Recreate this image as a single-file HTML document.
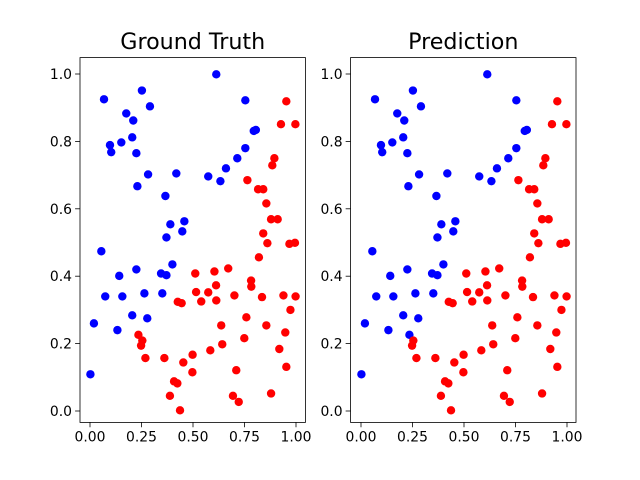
<!DOCTYPE html>
<html><head><meta charset="utf-8"><style>body{margin:0;background:#fff}svg{display:block}</style></head>
<body>
<svg id="fig" width="640" height="480" xmlns="http://www.w3.org/2000/svg" font-family="DejaVu Sans, Liberation Sans, sans-serif"></svg>
<script>
const xs=[0.613,0.068,0.252,0.754,0.953,0.291,0.176,0.210,0.927,0.997,0.795,0.805,0.097,0.152,0.205,0.103,0.225,0.754,0.715,0.895,0.885,0.660,0.282,0.419,0.574,0.633,0.764,0.230,0.816,0.841,0.366,0.856,0.458,0.390,0.879,0.911,0.448,0.841,0.371,
0.861,0.968,0.995,0.055,0.820,0.400,0.225,0.142,0.345,0.371,0.511,0.604,0.671,0.782,0.783,0.612,0.515,0.574,0.540,0.613,0.074,0.157,0.264,0.351,0.701,0.835,0.939,0.998,0.426,0.445,0.973,0.205,0.278,0.759,0.019,0.133,0.637,0.856,0.948,0.235,0.254,0.248,0.749,0.642,0.919,0.584,0.498,0.269,0.361,0.453,0.953,0.497,0.710,0.002,0.408,0.424,0.388,0.694,0.722,0.879,0.437];
const ys=[0.999,0.925,0.951,0.922,0.919,0.904,0.883,0.862,0.851,0.851,0.831,0.834,0.789,0.797,0.812,0.768,0.765,0.780,0.750,0.750,0.729,0.720,0.702,0.705,0.696,0.682,0.685,0.667,0.658,0.658,0.638,0.616,0.563,0.554,0.569,0.569,0.533,0.527,0.515,
0.498,0.496,0.499,0.474,0.456,0.435,0.420,0.401,0.408,0.403,0.408,0.414,0.423,0.387,0.369,0.373,0.353,0.352,0.325,0.328,0.340,0.340,0.349,0.349,0.343,0.338,0.343,0.340,0.324,0.320,0.300,0.284,0.275,0.278,0.260,0.240,0.254,0.254,0.233,0.226,0.209,0.194,0.216,0.198,0.184,0.180,0.167,0.157,0.157,0.144,0.131,0.115,0.121,0.109,0.088,0.082,0.045,0.045,0.027,0.052,0.002];
const gtLabels=("BBBBRBBBRRBBBBBBBBBRRBBBBBRBRRBRBBRRBRB"+"RRRBRBBBBB"+"RRRRRRRRRR"+"BBBBRRRRRR"+"RBBRBBRRRR"+"RRRRRRRRRR"+"RRRBRRRRRRR").split('');
const predLabels=gtLabels.slice(); predLabels[78]='B';
const xTicks=[0,0.25,0.5,0.75,1.0], xTickLabels=["0.00","0.25","0.50","0.75","1.00"];
const yTicks=[0,0.2,0.4,0.6,0.8,1.0], yTickLabels=["0.0","0.2","0.4","0.6","0.8","1.0"];
(function(){
const NS="http://www.w3.org/2000/svg", svg=document.getElementById('fig');
function mk(t,a,p){const e=document.createElementNS(NS,t);for(const k in a)e.setAttribute(k,a[k]);(p||svg).appendChild(e);return e;}
const topY=57.6,botY=422.4;
const panels=[{l:80,r:305.45,x0:90,title:"Ground Truth",labels:gtLabels,name:"ground-truth"},{l:350.55,r:576,x0:361,title:"Prediction",labels:predLabels,name:"prediction"}];
const sy=v=>411-337*v;
panels.forEach(p=>{
  const sx=v=>p.x0+206*v;
  const g=mk('g',{});
  
  
  xs.forEach((x,i)=>{const c=mk('circle',{cx:sx(x),cy:sy(ys[i]),r:4.2,fill:p.labels[i]==='B'?'#0000ff':'#ff0000'},g);
    
    });
  const f=mk('rect',{x:p.l,y:topY,width:p.r-p.l,height:botY-topY,fill:'none',stroke:'#000','stroke-width':0.8},g);
  
  
  xTicks.forEach((t,i)=>{mk('line',{x1:sx(t),x2:sx(t),y1:botY,y2:botY+4.9,stroke:'#000','stroke-width':0.8},g);
    const tx=mk('text',{x:sx(t),y:botY+19,'font-size':13.9,'text-anchor':'middle'},g);tx.textContent=xTickLabels[i];
    
    });
  yTicks.forEach((t,i)=>{mk('line',{x1:p.l-4.9,x2:p.l,y1:sy(t),y2:sy(t),stroke:'#000','stroke-width':0.8},g);
    const tx=mk('text',{x:p.l-8,y:sy(t)+5,'font-size':13.9,'text-anchor':'end'},g);tx.textContent=yTickLabels[i];
    
    });
  const ti=mk('text',{x:(p.l+p.r)/2,y:49,'font-size':22.2,'text-anchor':'middle'},g);ti.textContent=p.title;
  
  
});
})();
</script>
</body></html>
